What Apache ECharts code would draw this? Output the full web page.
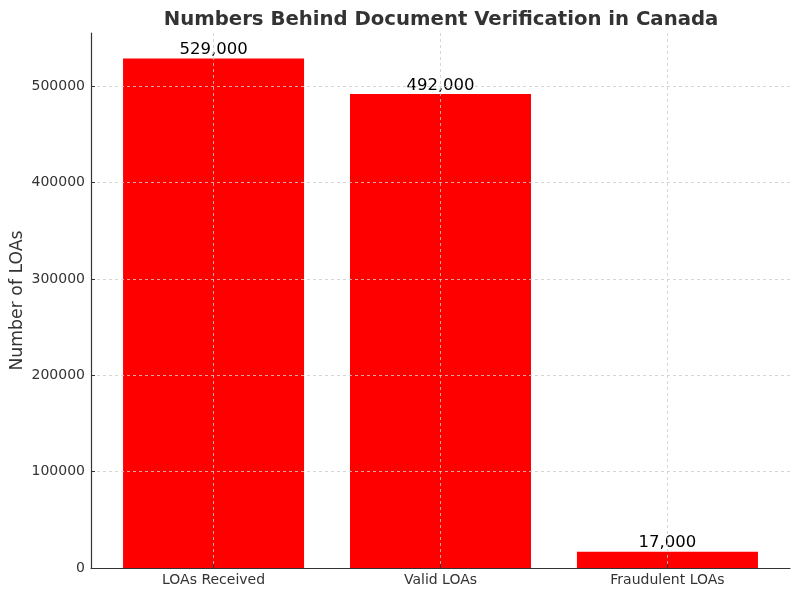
<!DOCTYPE html>
<html>
<head>
<meta charset="utf-8">
<script src="https://cdn.jsdelivr.net/npm/echarts@6/dist/echarts.min.js"></script>
<style>
  html, body { margin: 0; padding: 0; background: #fff; }
  #chart { width: 800px; height: 597px; }
</style>
</head>
<body>
<div id="chart"></div>
<script>
// data
var categories = ['LOAs Received', 'Valid LOAs', 'Fraudulent LOAs']
var counts = [529000, 492000, 17000]
var yTicks = [0, 100000, 200000, 300000, 400000, 500000]

var font = 'DejaVu Sans'
var chart = echarts.init(document.getElementById('chart'), null, { renderer: 'canvas' })

var positions = categories.map(function (c, i) { return i })

chart.setOption({
  animation: false,
  title: {
    text: 'Numbers Behind Document Verification in Canada',
    left: 436, top: 5, textAlign: 'center',
    textStyle: { fontFamily: font, fontSize: 19.7, fontWeight: 'bold', color: '#333' }
  },
  grid: { left: 91, right: 10, top: 33, bottom: 29, containLabel: false, outerBoundsMode: 'none' },
  xAxis: {
    type: 'value',
    min: -0.54, max: 2.54,
    z: 3,
    axisLine: { show: true, onZero: false, lineStyle: { color: '#333', width: 1.2 } },
    axisTick: { show: true, inside: true, length: 4, customValues: positions, lineStyle: { color: '#333' } },
    axisLabel: {
      customValues: positions,
      fontFamily: font, fontSize: 14, color: '#333', margin: 5,
      formatter: function (v) { return categories[Math.round(v)] }
    },
    splitLine: { show: true, lineStyle: { color: '#ccc', type: [3, 3], width: 0.8 } }
  },
  yAxis: {
    type: 'value',
    min: 0, max: 555450,
    z: 3,
    name: 'Number of LOAs',
    nameLocation: 'middle', nameGap: 65, nameRotate: 90, nameMoveOverlap: false,
    nameTextStyle: { fontFamily: font, fontSize: 17.3, color: '#333' },
    axisLine: { show: true, onZero: false, lineStyle: { color: '#333', width: 1.2 } },
    axisTick: { show: true, inside: true, length: 4, customValues: yTicks, lineStyle: { color: '#333' } },
    axisLabel: {
      customValues: yTicks,
      fontFamily: font, fontSize: 14, color: '#333', margin: 6,
      formatter: function (v) { return String(v) }
    },
    splitLine: { show: true, lineStyle: { color: '#ccc', type: [3, 3], width: 0.8 } }
  },
  series: [{
    type: 'bar',
    barWidth: 181,
    z: 2,
    itemStyle: { color: '#ff0000' },
    label: {
      show: true, position: 'top', distance: 0,
      fontFamily: font, fontSize: 16.5, color: '#000',
      formatter: function (p) { return p.value[1].toLocaleString('en-US') }
    },
    data: counts.map(function (v, i) { return [positions[i], v] })
  }]
})
</script>
</body>
</html>
